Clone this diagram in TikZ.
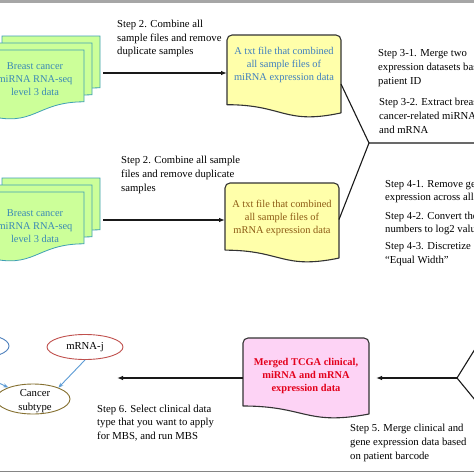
\documentclass[tikz,border=0pt]{standalone}
\usepackage{fontspec}
\setmainfont{Liberation Serif}
\usetikzlibrary{arrows.meta,calc,shapes.geometric}
\definecolor{gfill}{HTML}{CCFF99}
\definecolor{gline}{HTML}{3FA0B5}
\definecolor{gtext}{HTML}{3A8AB5}
\definecolor{yfill}{HTML}{FFFFAA}
\definecolor{ytextA}{HTML}{3F7FBF}
\definecolor{ytextB}{HTML}{8C5A14}
\definecolor{pfill}{HTML}{FDD3F5}
\definecolor{ptext}{HTML}{E3001B}
\definecolor{ered}{HTML}{C0504D}
\definecolor{eblue}{HTML}{4F81BD}
\definecolor{ablue}{HTML}{5B9BD5}
\definecolor{eolive}{HTML}{857030}
\definecolor{framegray}{HTML}{A6A6A6}

\newcommand\steptxt{\fontsize{10.7}{13.7}\selectfont}
\newcommand\doctxt{\fontsize{10.4}{13.2}\selectfont}

\newcommand\docA[2]{\path[#2] let \p1=(#1.north west), \p2=(#1.south east), \n1={\y1-\y2} in
 (\x1,\y1) -- (\x2,\y1) -- (\x2,{\y1-0.74*\n1})
 .. controls ({0.5*\x1+0.5*\x2},{\y1-0.74*\n1}) and ({0.5*\x1+0.5*\x2},{\y1-1.12*\n1}) .. (\x1,{\y1-0.93*\n1}) -- cycle;}

\newcommand\docB[2]{\path[#2] let \p1=(#1.north west), \p2=(#1.south east), \n1={\y1-\y2} in
 (\x1,{\y1-0.85*\n1}) -- (\x1,{\y1-5pt}) arc[start angle=180,end angle=90,radius=5pt]
 -- ({\x2-5pt},\y1) arc[start angle=90,end angle=0,radius=5pt]
 -- (\x2,{\y1-0.95*\n1})
 .. controls ({0.5*\x1+0.5*\x2},{\y1-1.1*\n1}) and ({0.5*\x1+0.5*\x2},{\y1-0.85*\n1}) .. (\x1,{\y1-0.85*\n1}) -- cycle;}

\begin{document}
\begin{tikzpicture}[x=1pt,y=-1pt,
 box/.style={rectangle,draw=none,fill=none,inner sep=0pt,outer sep=0pt},
 gdoc/.style={draw=gline,fill=gfill,line width=0.8pt},
 ydoc/.style={draw=black!80,fill=yfill,line width=1.1pt,line join=round},
 pdoc/.style={draw=black!80,fill=pfill,line width=1.1pt,line join=round},
 lbl/.style={anchor=west,align=left,inner sep=0pt,font=\steptxt},
 dtxt/.style={align=center,inner sep=0pt,font=\doctxt},
 link/.style={line width=1.1pt,draw=black!90},
 arr/.style={link,-{Latex[length=6pt,width=4.5pt]}},
 barr/.style={draw=ablue,line width=0.9pt,-{Stealth[length=5pt,width=4pt]}},
 ell/.style={ellipse,inner sep=0pt,line width=0.9pt,fill=white}]

\fill[white] (0,0) rectangle (474,474);
\path[use as bounding box] (0,0) rectangle (474,474);
\clip (0,0) rectangle (474,474);

% frame lines
\fill[framegray] (0,0) rectangle (474,3);
\draw[framegray!80!black,line width=0.8pt] (0,471) -- (474,471);

% green stack 1
\node[box,minimum width=98pt,minimum height=70pt] (g1back) at (51,71) {};
\node[box,minimum width=98pt,minimum height=70pt] (g1mid) at (43,78) {};
\node[box,minimum width=98pt,minimum height=70pt] (g1front) at (35,85) {};
\docA{g1back}{gdoc}\docA{g1mid}{gdoc}\docA{g1front}{gdoc}
\node[dtxt,text=gtext] (g1t) at (35,79) {Breast cancer\\miRNA RNA-seq\\level 3 data};

% green stack 2
\node[box,minimum width=98pt,minimum height=70pt] (g2back) at (51,213) {};
\node[box,minimum width=98pt,minimum height=70pt] (g2mid) at (43,220) {};
\node[box,minimum width=98pt,minimum height=70pt] (g2front) at (35,227) {};
\docA{g2back}{gdoc}\docA{g2mid}{gdoc}\docA{g2front}{gdoc}
\node[dtxt,text=gtext] (g2t) at (35,226) {Breast cancer\\miRNA RNA-seq\\level 3 data};

% yellow docs
\node[box,minimum width=114pt,minimum height=82pt] (y1) at (284,76) {};
\docB{y1}{ydoc}
\node[dtxt,text=ytextA] (y1t) at (284,65) {A txt file that combined\\all sample files of\\miRNA expression data};

\node[box,minimum width=114pt,minimum height=79pt] (y2) at (282,222.5) {};
\docB{y2}{ydoc}
\node[dtxt,text=ytextB] (y2t) at (282,218) {A txt file that combined\\all sample files of\\mRNA expression data};

% pink doc
\node[box,minimum width=126pt,minimum height=80pt] (p) at (306,378) {};
\docB{p}{pdoc}
\node[dtxt,text=ptext,font=\doctxt\bfseries] (ptxt) at (306,376) {Merged TCGA clinical,\\miRNA and mRNA\\expression data};

% step labels
\node[lbl] (s2a) at (117,38.5) {Step 2. Combine all\\sample files and remove\\duplicate samples};
\node[lbl] (s2b) at (121,175) {Step 2. Combine all sample\\files and remove duplicate\\samples};
\node[lbl] (s31) at (378,68) {Step 3-1. Merge two\\expression datasets based on\\patient ID};
\node[lbl] (s32) at (379,116) {Step 3-2. Extract breast\\cancer-related miRNA\\and mRNA};
\node[lbl] (s41) at (385,191.5) {Step 4-1. Remove genes\\expression across all};
\node[lbl] (s42) at (385,223.5) {Step 4-2. Convert the\\numbers to log2 values};
\node[lbl] (s43) at (385,254) {Step 4-3. Discretize\\“Equal Width”};
\node[lbl] (s5) at (350,443) {Step 5. Merge clinical and\\gene expression data based\\on patient barcode};
\node[lbl] (s6) at (97,423) {Step 6. Select clinical data\\type that you want to apply\\for MBS, and run MBS};

% connectors top
\coordinate (a1s) at ([yshift=-2pt]g1back.east);
\draw[arr,shorten <=3pt] (a1s) -- (a1s -| y1.west);
\coordinate (a2s) at ([yshift=-7pt]g2back.east);
\draw[arr,shorten <=3pt] (a2s) -- (a2s -| y2.west);

\coordinate (J1) at (369,143);
\coordinate (E1) at (480,143);
\draw[link] ([yshift=-8pt]y1.east) -- (J1) -- (E1);
\draw[link] ([yshift=3pt]y2.east) -- (J1);

% connectors bottom
\coordinate (J2) at (457,378);
\coordinate (E2) at (480,341);
\coordinate (E3) at (480,406);
\draw[link] (E2) -- (J2) -- (E3);
\draw[arr,shorten >=7pt] (J2) -- (p.east);
\coordinate (a6e) at (117,378);
\draw[arr] (p.west) -- (a6e);

% network
\node[ell,draw=eblue,minimum width=62pt,minimum height=24pt] (mirl) at (-22,346) {};
\node[ell,draw=ered,minimum width=76pt,minimum height=25pt,font=\steptxt] (mrnaj) at (85,347) {mRNA-j};
\node[ell,draw=eolive,minimum width=74pt,minimum height=30pt] (cs) at (33,399) {};
\node[dtxt,font=\steptxt] (cst) at (35,401) {Cancer\\subtype};
\coordinate (ls) at (-15,380);
\draw[barr] (ls) to[out=0,in=155] (cs.155);
\draw[barr] (mrnaj.south) -- (cs.24);

\end{tikzpicture}
\end{document}
